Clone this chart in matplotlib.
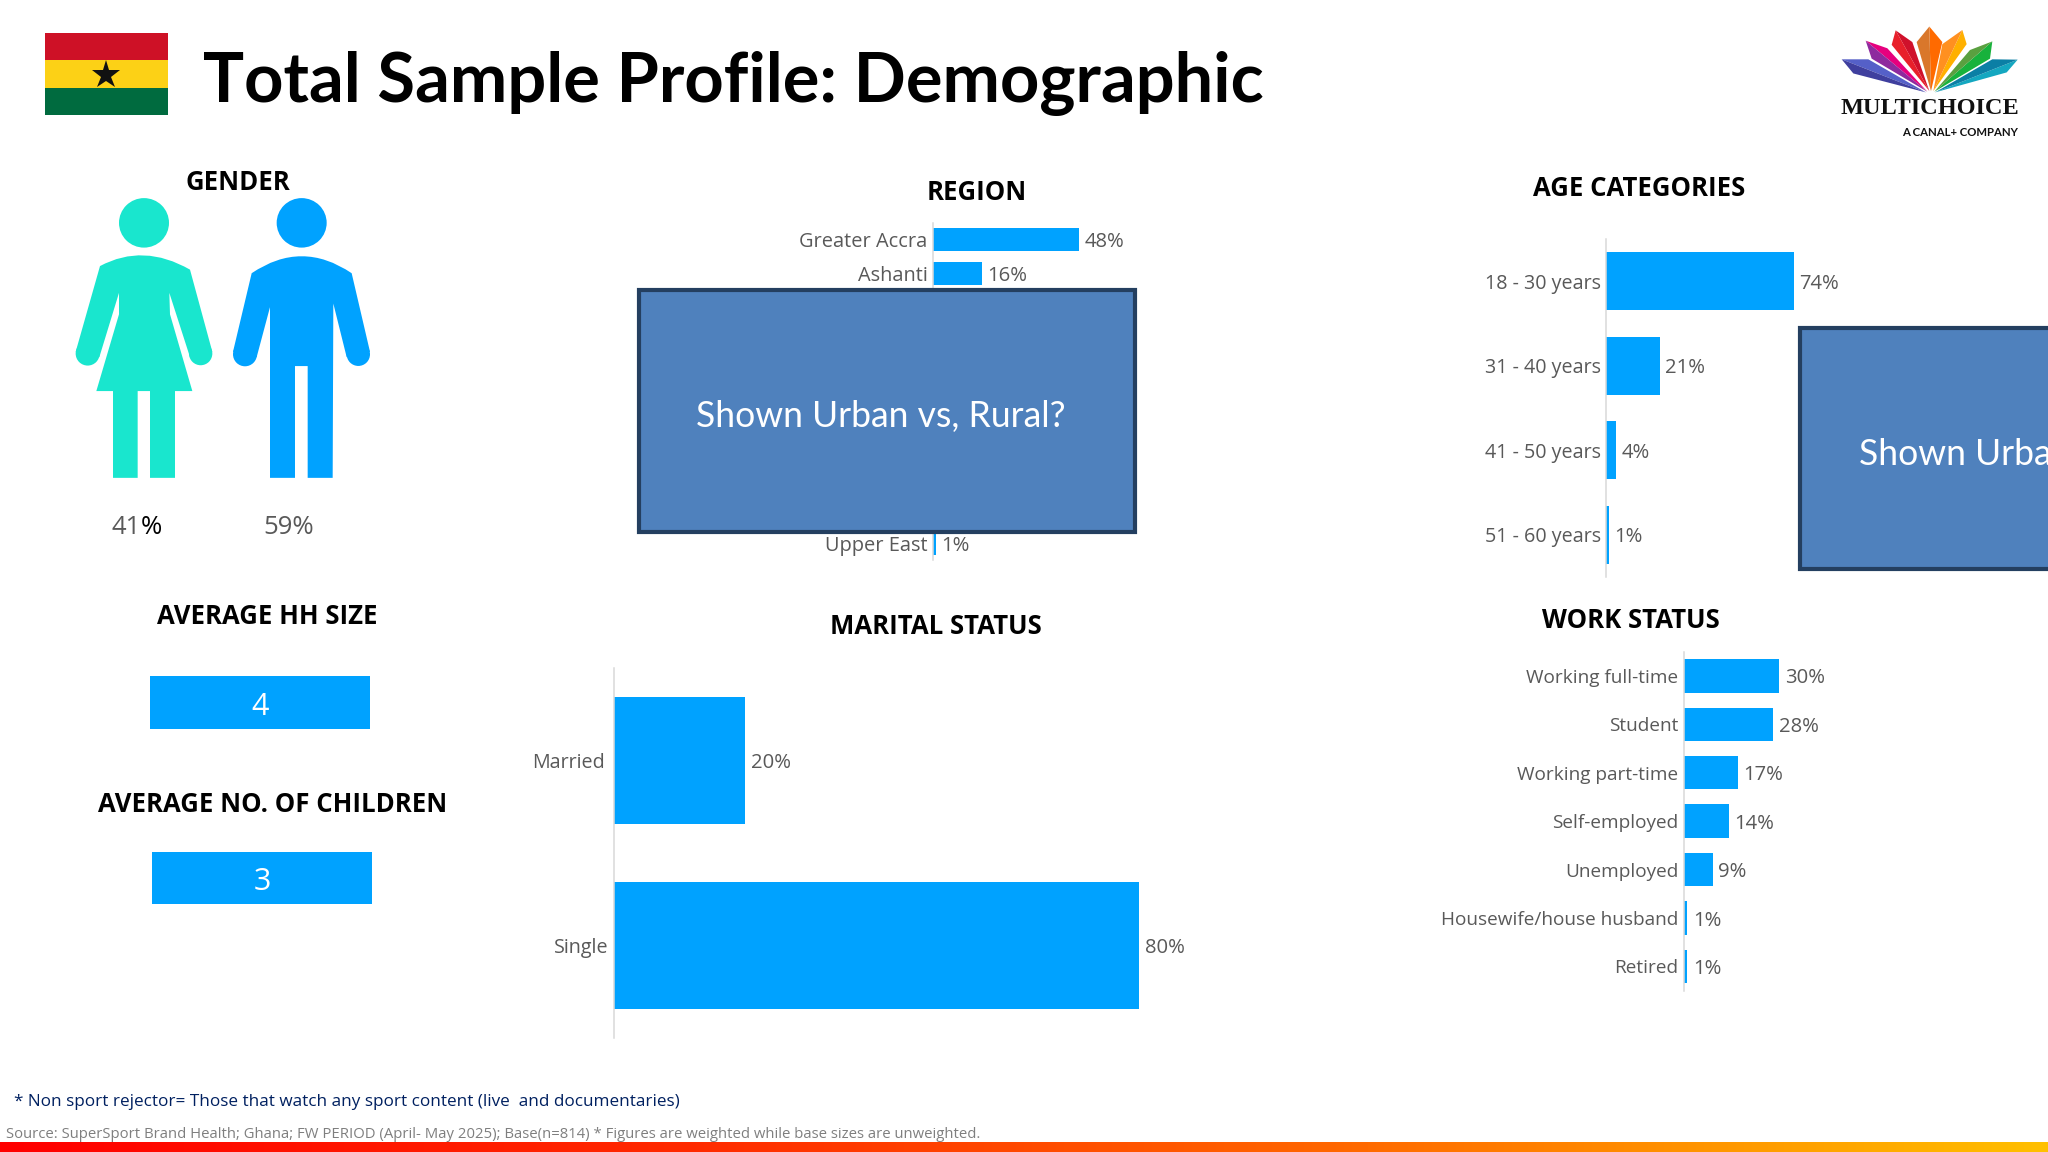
import matplotlib
matplotlib.use("Agg")
import numpy as np
import matplotlib.pyplot as plt
import matplotlib.patches as patches
from matplotlib.colors import LinearSegmentedColormap
from matplotlib.path import Path

plt.rcParams['font.family'] = ['Open Sans', 'DejaVu Sans']

BLUE = '#00A2FF'
TEAL = '#19E6CE'
GREY = '#595959'
W, H = 2048, 1152

# hidden rows sit behind the blue box, only the three visible ones can be read
region_labels = ['Greater Accra', 'Ashanti', '', '', '', '', '', '', '', 'Upper East']
region_values = [48, 16, 0, 0, 0, 0, 0, 0, 0, 1]
age_labels = ['18 - 30 years', '31 - 40 years', '41 - 50 years', '51 - 60 years']
age_values = [74, 21, 4, 1]
marital_labels = ['Married', 'Single']
marital_values = [20, 80]
work_labels = ['Working full-time', 'Student', 'Working part-time', 'Self-employed',
               'Unemployed', 'Housewife/house husband', 'Retired']
work_values = [30, 28, 17, 14, 9, 1, 1]
gender_values = [41, 59]
avg_hh_size = 4
avg_children = 3


def draw_bars(fig, left, top, bottom, px_per_pct, labels, values, fontsize=14.3):
    # axes box is given in pixels of the final image
    width = 560
    ax = fig.add_axes([left / W, 1 - bottom / H, width / W, (bottom - top) / H], zorder=1)
    ax.patch.set_visible(False)
    ypos = np.arange(len(values))
    bars = ax.barh(ypos, values, height=0.69, color=BLUE)
    ax.set_xlim(0, width / px_per_pct)
    ax.set_ylim(len(values) - 0.5, -0.5)
    ax.set_xticks([])
    ax.set_yticks(ypos, labels, fontsize=fontsize, color=GREY)
    ax.tick_params(axis='y', length=0, pad=4)
    for side in ['top', 'right', 'bottom']:
        ax.spines[side].set_visible(False)
    ax.spines['left'].set_color('#D9D9D9')
    ax.spines['left'].set_linewidth(1.1)
    texts = [f"{v}%" if v else "" for v in values]
    for t in ax.bar_label(bars, labels=texts, padding=4, fontsize=14.6, color=GREY):
        t.set_va('center_baseline')
    return ax


def draw_figure(ax, d, color):
    pts = np.array(d['verts'], dtype=float) / [3, 2.8]
    ax.add_patch(patches.PathPatch(Path(pts, d['codes']), facecolor=color, edgecolor='none'))
    for cx, cy, r in d['ends']:
        ax.add_patch(patches.Circle((cx / 3, cy / 2.8), r / 3, facecolor=color, edgecolor='none'))
    hx, hy = d['head']
    ax.add_patch(patches.Ellipse((hx / 3, hy / 2.8), 50, 49.5, facecolor=color, edgecolor='none'))


def draw_logo(ax):
    ox, oy = 1800, 0
    petals = [
        ([(125, 172), (205, 172), (378, 268)], '#5560C8'),
        ([(125, 172), (378, 268), (160, 213)], '#3F3F9E'),
        ([(197, 118), (262, 140), (382, 266)], '#E6007E'),
        ([(197, 118), (382, 266), (215, 170)], '#8E2A9E'),
        ([(287, 88), (337, 122), (388, 264)], '#D0112B'),
        ([(287, 88), (388, 264), (275, 130)], '#E8202A'),
        ([(388, 77), (427, 122), (393, 264)], '#FF6A00'),
        ([(388, 77), (393, 264), (350, 122)], '#D9772B'),
        ([(487, 87), (500, 128), (400, 264)], '#FFB000'),
        ([(487, 87), (400, 264), (427, 128)], '#FF9020'),
        ([(577, 120), (570, 170), (403, 266)], '#18B23C'),
        ([(577, 120), (403, 266), (510, 145)], '#5AA040'),
        ([(653, 173), (620, 210), (405, 268)], '#14A7C0'),
        ([(653, 173), (405, 268), (577, 172)], '#0B7FA5'),
    ]
    for pts, col in petals:
        xy = [(ox + x / 3, oy + y / 2.9) for x, y in pts]
        ax.add_patch(patches.Polygon(xy, closed=True, facecolor=col, edgecolor='none'))
    ax.text(1930, 108, 'MULTICHOICE', fontsize=17.5, fontweight='bold', family='Liberation Serif',
            ha='center', va='center', color='#111111')
    ax.text(2018, 132, 'A CANAL+ COMPANY', fontsize=8.2, fontweight='bold', family='Lato',
            ha='right', va='center', color='#111111')


def main():
    fig = plt.figure(figsize=(20.48, 11.52), dpi=100, facecolor='white')

    bg = fig.add_axes([0, 0, 1, 1], zorder=0)
    bg.set_xlim(0, W)
    bg.set_ylim(H, 0)
    bg.axis('off')

    # flag
    bg.add_patch(patches.Rectangle((45, 32.8), 123, 27.4, facecolor='#CE1126'))
    bg.add_patch(patches.Rectangle((45, 60.2), 123, 27.4, facecolor='#FCD116'))
    bg.add_patch(patches.Rectangle((45, 87.6), 123, 27.4, facecolor='#006B3F'))
    bg.plot([106], [74.5], marker='*', markersize=21, color='#111111', markeredgewidth=0)

    bg.text(203, 102, 'Total Sample Profile: Demographic', fontsize=49.4, fontweight='bold',
            family='Lato', color='black', ha='left', va='baseline')
    draw_logo(bg)

    # section headings
    for label, x, y in [('GENDER', 238, 183), ('REGION', 977, 193), ('AGE CATEGORIES', 1639, 189),
                        ('AVERAGE HH SIZE', 267, 617), ('AVERAGE NO. OF CHILDREN', 273, 805),
                        ('MARITAL STATUS', 936, 627), ('WORK STATUS', 1631, 621)]:
        bg.text(x, y, label, fontsize=18.5, fontweight='bold', color='black', ha='center', va='center')

    # gender pictograms
    M, L, C, Z = Path.MOVETO, Path.LINETO, Path.CURVE3, Path.CLOSEPOLY
    woman = {
        'verts': [(300, 745), (430, 680), (570, 755), (637, 985), (570, 1000), (508, 820), (510, 880),
                  (577, 1095), (525, 1095), (525, 1338), (450, 1338), (450, 1095), (413, 1095),
                  (413, 1338), (339, 1338), (339, 1095), (289, 1095), (357, 880), (357, 820),
                  (298, 1000), (227, 985), (300, 745)],
        'codes': [M, C, C] + [L] * 18 + [Z],
        'ends': [(602, 990, 35), (263, 990, 36)],
        'head': (432, 624),
    }
    man = {
        'verts': [(755, 765), (905, 670), (1055, 765), (1110, 985), (1040, 1000), (1000, 850), (998, 1338),
                  (923, 1338), (923, 1025), (885, 1025), (885, 1338), (810, 1338), (810, 860), (770, 1000),
                  (699, 985), (755, 765)],
        'codes': [M, C, C] + [L] * 12 + [Z],
        'ends': [(1075, 992, 35), (735, 992, 36)],
        'head': (905, 624),
    }
    draw_figure(bg, woman, TEAL)
    draw_figure(bg, man, BLUE)
    t = bg.text(112, 528, f"{gender_values[0]}", fontsize=18.5, color=GREY, ha='left', va='center')
    bg.annotate('%', xycoords=t, xy=(1, 0), va='bottom', fontsize=18.5, color='black')
    bg.text(263, 528, f"{gender_values[1]}%", fontsize=18.5, color=GREY, ha='left', va='center')

    # stat boxes
    bg.add_patch(patches.Rectangle((150, 676), 220, 53, facecolor=BLUE))
    bg.text(260, 707, str(avg_hh_size), fontsize=22, color='white', ha='center', va='center')
    bg.add_patch(patches.Rectangle((152, 851.7), 220, 52.5, facecolor=BLUE))
    bg.text(262, 882, str(avg_children), fontsize=22, color='white', ha='center', va='center')

    # footnotes and bottom strip
    bg.text(14, 1102.5, '* Non sport rejector= Those that watch any sport content (live  and documentaries)',
            fontsize=12.3, color='#002060', ha='left', va='center')
    bg.text(6, 1134, 'Source: SuperSport Brand Health; Ghana; FW PERIOD (April- May 2025); Base(n=814) * Figures are weighted while base sizes are unweighted.',
            fontsize=10.75, color='#7F7F7F', ha='left', va='center')
    strip = LinearSegmentedColormap.from_list('strip', ['#FF0000', '#FF2A00', '#FF6A00', '#FFC000'])
    bg.imshow(np.linspace(0, 1, 512).reshape(1, -1), cmap=strip, aspect='auto',
              extent=(0, W, 1152, 1142.7), zorder=1)
    bg.set_xlim(0, W)
    bg.set_ylim(H, 0)

    # charts
    draw_bars(fig, 933, 223, 560, 3.04, region_labels, region_values, fontsize=14.4)
    draw_bars(fig, 1606.3, 239, 577, 2.537, age_labels, age_values, fontsize=14.2)
    ax = draw_bars(fig, 613.8, 668, 1038, 6.57, marital_labels, marital_values, fontsize=14.2)
    ax.yaxis.get_major_ticks()[0].set_pad(6.5)  # Married sits further from the axis than Single
    draw_bars(fig, 1684, 651.7, 990.7, 3.18, work_labels, work_values, fontsize=13.7)

    # overlay boxes sit above the charts
    top = fig.add_axes([0, 0, 1, 1], zorder=2)
    top.set_xlim(0, W)
    top.set_ylim(H, 0)
    top.axis('off')
    top.patch.set_visible(False)
    top.add_patch(patches.Rectangle((639, 290), 496, 242, facecolor='#4F81BD', edgecolor='#243F60', linewidth=3))
    top.text(881, 416, 'Shown Urban vs, Rural?', fontsize=25.6, family='Lato', color='white', ha='center', va='center')
    top.add_patch(patches.Rectangle((1800, 328), 498, 241, facecolor='#4F81BD', edgecolor='#243F60', linewidth=3))
    top.text(1859, 454, 'Shown Urban vs, Rural?', fontsize=25.6, family='Lato', color='white', ha='left', va='center', clip_on=True)

    fig.savefig('out.png', dpi=100)
    plt.close(fig)


if __name__ == "__main__":
    main()
